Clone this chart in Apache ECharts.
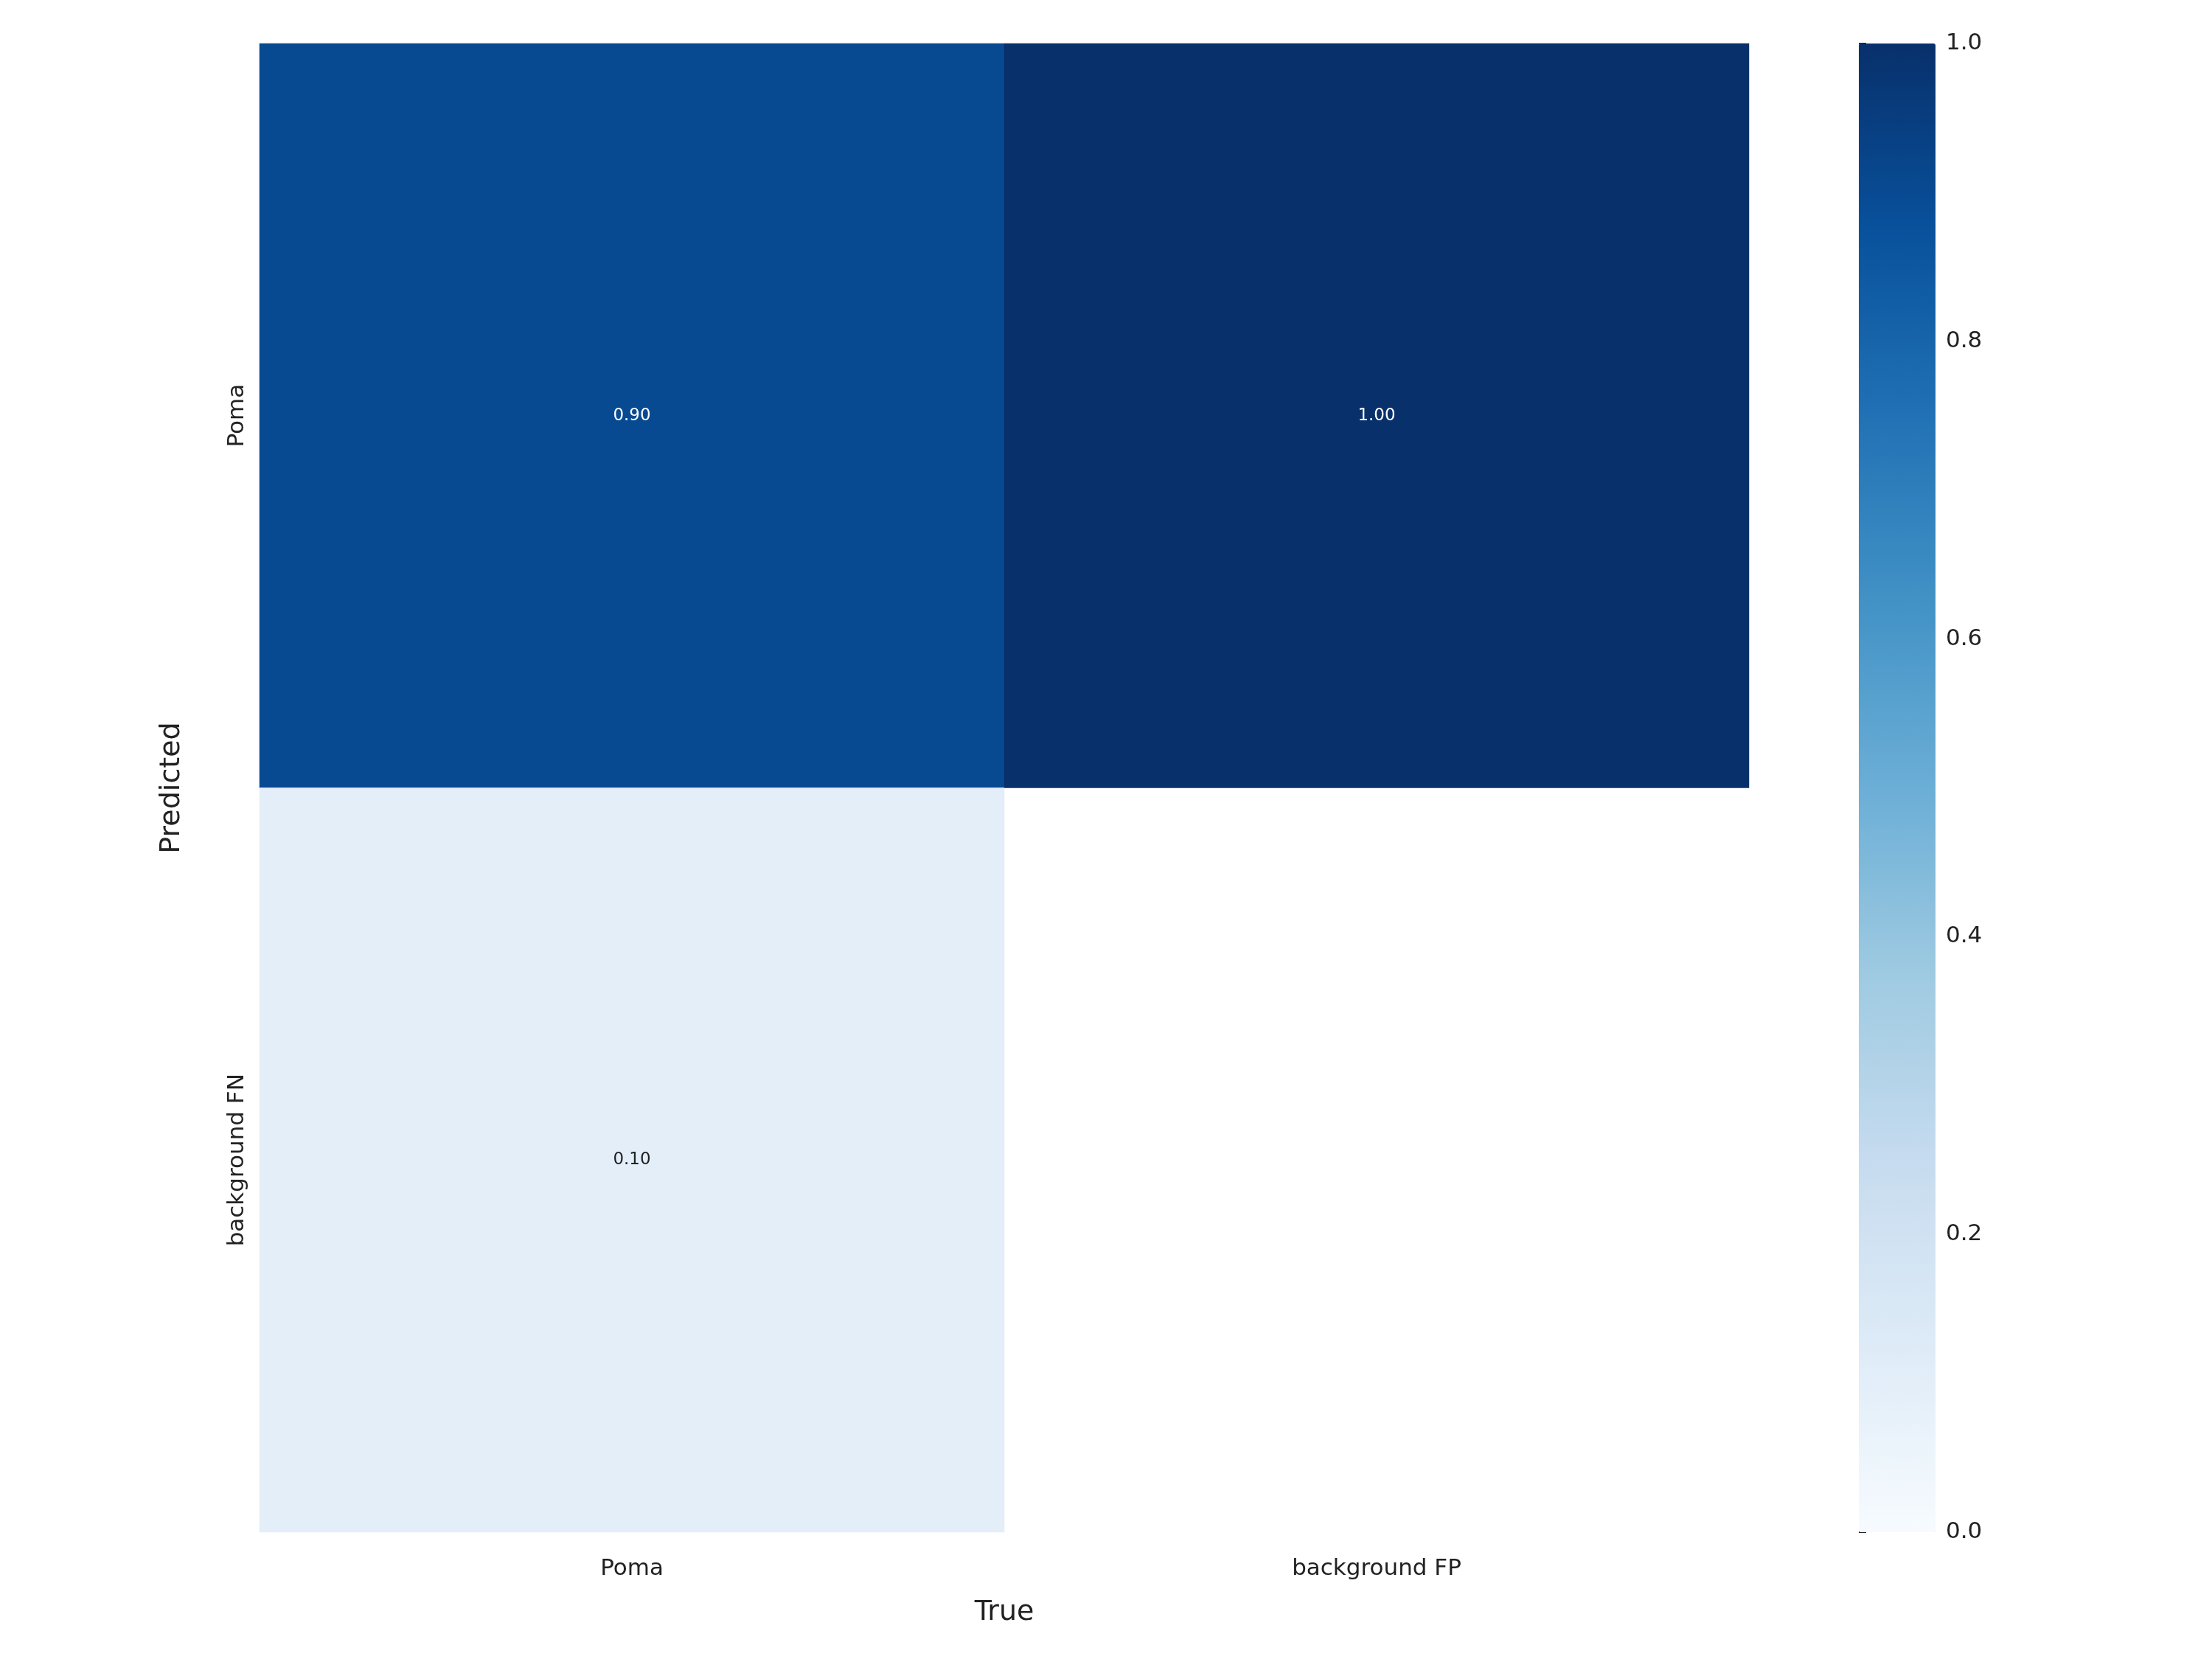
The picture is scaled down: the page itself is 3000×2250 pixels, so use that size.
<!DOCTYPE html>
<html>
<head>
<meta charset="utf-8">
<script src="https://cdn.jsdelivr.net/npm/echarts@6/dist/echarts.min.js"></script>
<style>html,body{margin:0;padding:0;background:#fff}#chart{width:3000px;height:2250px}</style>
</head>
<body>
<div id="chart"></div>
<script>
var trueLabels = ['Poma', 'background FP'];
var predLabels = ['Poma', 'background FN'];
// [trueIndex, predIndex, value]; zero cell is masked (blank)
var cells = [[0, 0, 0.90], [1, 0, 1.00], [0, 1, 0.10]];
var barTicks = [0, 0.2, 0.4, 0.6, 0.8, 1.0];
var blues = ['#f7fbff', '#deebf7', '#c6dbef', '#9ecae1', '#6baed6', '#4292c6', '#2171b5', '#08519c', '#08306b'];

var font = 'DejaVu Sans';
var chart = echarts.init(document.getElementById('chart'));
chart.setOption({
    backgroundColor: '#fff',
    textStyle: {fontFamily: font},
    grid: [
        {left: 352, top: 59, width: 2020, height: 2019},
        {left: 2521, top: 59, width: 104, height: 2019}
    ],
    xAxis: [
        {type: 'category', data: trueLabels, gridIndex: 0, name: 'True', nameLocation: 'middle', nameGap: 90,
         nameTextStyle: {fontSize: 38, color: '#222'},
         axisLine: {show: false}, axisTick: {show: false}, splitLine: {show: false},
         axisLabel: {fontSize: 31, color: '#222', margin: 34}},
        {type: 'value', gridIndex: 1, show: false, min: 0, max: 1}
    ],
    yAxis: [
        {type: 'category', data: predLabels, inverse: true, gridIndex: 0, name: 'Predicted', nameLocation: 'middle', nameGap: 100,
         nameRotate: 90, nameTextStyle: {fontSize: 38, color: '#222'},
         axisLine: {show: false}, axisTick: {show: false}, splitLine: {show: false},
         axisLabel: {fontSize: 31, color: '#222', rotate: 90, margin: 30, verticalAlign: 'middle'}},
        {type: 'value', gridIndex: 1, position: 'right', min: 0, max: 1, interval: 0.2,
         axisLine: {show: false}, splitLine: {show: false},
         axisTick: {show: true, length: 10, lineStyle: {color: '#222', width: 2}},
         axisLabel: {fontSize: 31, color: '#222', margin: 14, formatter: function (v) { return v.toFixed(1); }}}
    ],
    visualMap: {
        type: 'continuous', min: 0, max: 1, seriesIndex: 0, calculable: false, text: null,
        left: 2521, top: 59, itemWidth: 104, itemHeight: 2019, padding: 0, showLabel: false,
        inRange: {color: blues}
    },
    series: [{
        type: 'heatmap', xAxisIndex: 0, yAxisIndex: 0,
        data: cells.map(function (c) {
            return {value: c, label: {color: c[2] > 0.5 ? '#fff' : '#222'}};
        }),
        label: {show: true, fontSize: 23, formatter: function (p) { return p.value[2].toFixed(2); }}
    }]
});
</script>
</body>
</html>
